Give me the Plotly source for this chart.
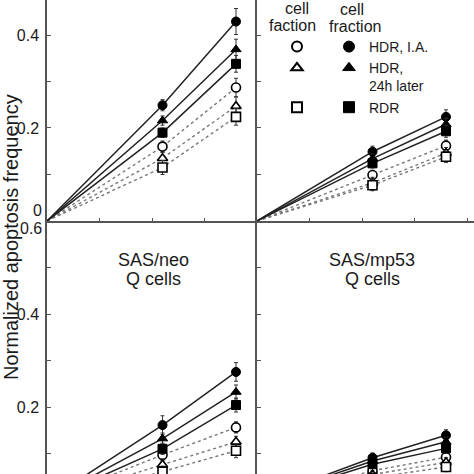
import plotly.graph_objects as go

# doses (x units, tick every 1) and the three schedules
dose = [0, 2.2, 3.6]
schedules = ['HDR, I.A.', 'HDR,<br>24h later', 'RDR']
blank_names = [' ', ' <br> ', ' ']
symbols = ['circle', 'triangle-up', 'square']

# top left panel: filled = one cell fraction, open = other
tl_filled = [[0, 0.249, 0.429], [0, 0.216, 0.369], [0, 0.190, 0.338]]
tl_filled_err = [[0.012, 0.028], [0.010, 0.022], [0.010, 0.018]]
tl_open = [[0, 0.160, 0.287], [0, 0.135, 0.247], [0, 0.115, 0.224]]
tl_open_err = [[0.012, 0.020], [0.012, 0.020], [0.015, 0.018]]

# top right panel
tr_filled = [[0, 0.149, 0.224], [0, 0.134, 0.208], [0, 0.124, 0.193]]
tr_filled_err = [[0.012, 0.015], [0.010, 0.013], [0.010, 0.013]]
tr_open = [[0, 0.099, 0.162], [0, 0.082, 0.146], [0, 0.077, 0.138]]
tr_open_err = [[0.010, 0.012], [0.012, 0.012], [0.012, 0.012]]

# bottom left: SAS/neo Q cells
bl_filled = [[0, 0.162, 0.276], [0, 0.133, 0.233], [0, 0.111, 0.205]]
bl_filled_err = [[0.020, 0.020], [0.012, 0.015], [0.012, 0.015]]
bl_open = [[0, 0.098, 0.157], [0, 0.077, 0.126], [0, 0.062, 0.107]]
bl_open_err = [[0.012, 0.012], [0.012, 0.012], [0.012, 0.015]]

# bottom right: SAS/mp53 Q cells
br_filled = [[0, 0.092, 0.140], [0, 0.085, 0.126], [0, 0.078, 0.112]]
br_filled_err = [[0.010, 0.012], [0.008, 0.010], [0.008, 0.010]]
br_open = [[0, 0.064, 0.093], [0, 0.056, 0.082], [0, 0.049, 0.072]]
br_open_err = [[0.008, 0.010], [0.008, 0.010], [0.008, 0.010]]

FONT = 'Arial, Liberation Sans, sans-serif'
TXT = '#1a1a1a'

fig = go.Figure()


def add_panel(xa, ya, filled, filled_err, opened, opened_err):
    # lines first (dotted for open, solid for filled) so markers sit on top
    for vals in opened:
        fig.add_trace(go.Scatter(x=dose, y=vals, xaxis=xa, yaxis=ya, mode='lines',
                                 line=dict(color='#777', width=1.4, dash='dot'),
                                 showlegend=False, hoverinfo='skip'))
    for vals in filled:
        fig.add_trace(go.Scatter(x=dose, y=vals, xaxis=xa, yaxis=ya, mode='lines',
                                 line=dict(color='#222', width=1.5),
                                 showlegend=False, hoverinfo='skip'))
    for vals, err, sym in zip(opened, opened_err, symbols):
        fig.add_trace(go.Scatter(x=dose[1:], y=vals[1:], xaxis=xa, yaxis=ya, mode='markers',
                                 marker=dict(symbol=sym, size=9, color='white',
                                             line=dict(color='black', width=1.6)),
                                 error_y=dict(type='data', array=err, color='#333',
                                              thickness=1, width=2),
                                 showlegend=False))
    for vals, err, sym in zip(filled, filled_err, symbols):
        fig.add_trace(go.Scatter(x=dose[1:], y=vals[1:], xaxis=xa, yaxis=ya, mode='markers',
                                 marker=dict(symbol=sym, size=9, color='black',
                                             line=dict(color='black', width=1)),
                                 error_y=dict(type='data', array=err, color='#333',
                                              thickness=1, width=2),
                                 showlegend=False))


add_panel('x', 'y', tl_filled, tl_filled_err, tl_open, tl_open_err)
add_panel('x2', 'y2', tr_filled, tr_filled_err, tr_open, tr_open_err)
add_panel('x3', 'y3', bl_filled, bl_filled_err, bl_open, bl_open_err)
add_panel('x4', 'y4', br_filled, br_filled_err, br_open, br_open_err)

# legend-only entries: open symbols (no text) and filled symbols with labels
for nm, sym in zip(blank_names, symbols):
    fig.add_trace(go.Scatter(x=[None], y=[None], mode='markers', name=nm, legend='legend',
                             marker=dict(symbol=sym, size=10, color='white',
                                         line=dict(color='black', width=2))))
for nm, sym in zip(schedules, symbols):
    fig.add_trace(go.Scatter(x=[None], y=[None], mode='markers', name=nm, legend='legend2',
                             marker=dict(symbol=sym, size=11, color='black',
                                         line=dict(color='black', width=1))))

axis_style = dict(showgrid=False, zeroline=False, showline=True, linecolor='#555',
                  linewidth=1.5, ticks='inside', tickcolor='#555', ticklen=4,
                  tickwidth=1.2, automargin=False, ticklabelstandoff=3,
                  tickfont=dict(family=FONT, size=16, color=TXT))
x_left = [0.0992, 0.5422]
x_right = [0.5422, 1.0]
y_top = [0.5338, 1.0]
y_bottom = [0.0, 0.5338]

fig.update_layout(
    width=474, height=474,
    margin=dict(l=0, r=0, t=0, b=0, autoexpand=False),
    paper_bgcolor='white', plot_bgcolor='white',
    font=dict(family=FONT, size=16, color=TXT),
    xaxis=dict(axis_style, domain=x_left, anchor='y', range=[0, 4],
               tickvals=[1, 2, 3], ticklen=3, showticklabels=False),
    yaxis=dict(axis_style, domain=y_top, anchor='x', range=[0, 0.4753],
               tickvals=[0, 0.1, 0.2, 0.3, 0.4], ticktext=['', '', '0.2', '', '0.4']),
    xaxis2=dict(axis_style, domain=x_right, anchor='y2', range=[0, 4.133],
                tickvals=[1, 2, 3, 4], ticklen=3, showticklabels=False),
    yaxis2=dict(axis_style, domain=y_top, anchor='x2', range=[0, 0.4753],
                tickvals=[0.1, 0.2, 0.3, 0.4], showticklabels=False),
    xaxis3=dict(domain=x_left, anchor='y3', range=[0, 4], visible=False, automargin=False),
    yaxis3=dict(axis_style, domain=y_bottom, anchor='x3', range=[0.057, 0.6],
                tickvals=[0.1, 0.2, 0.3, 0.4, 0.5, 0.6],
                ticktext=['', '0.2', '', '0.4', '', '']),
    xaxis4=dict(domain=x_right, anchor='y4', range=[0, 4.133], visible=False, automargin=False),
    yaxis4=dict(axis_style, domain=y_bottom, anchor='x4', range=[0.057, 0.6],
                tickvals=[0.1, 0.2, 0.3, 0.4, 0.5], showticklabels=False),
    legend=dict(x=277 / 474, y=1 - 31 / 474, xanchor='left', yanchor='top',
                bgcolor='rgba(0,0,0,0)', valign='top', itemclick=False,
                font=dict(family=FONT, size=14, color=TXT)),
    legend2=dict(x=329 / 474, y=1 - 31 / 474, xanchor='left', yanchor='top',
                 bgcolor='rgba(0,0,0,0)', valign='top', itemclick=False,
                 font=dict(family=FONT, size=14, color=TXT)),
)

annots = [
    dict(text='Normalized apoptosis frequency', xref='paper', yref='paper',
         x=11 / 474, y=1 - 237 / 474, textangle=-90, font=dict(size=20)),
    dict(text='0', xref='paper', yref='y', x=0.0992, y=0, xanchor='right',
         xshift=-3, yshift=10),
    dict(text='0.6', xref='paper', yref='y3', x=0.0992, y=0.6, xanchor='right',
         xshift=-3, yshift=-8),
    dict(text='SAS/neo', xref='paper', yref='paper', x=153 / 474, y=1 - 260 / 474,
         font=dict(size=18)),
    dict(text='Q cells', xref='paper', yref='paper', x=153 / 474, y=1 - 279 / 474,
         font=dict(size=18)),
    dict(text='SAS/mp53', xref='paper', yref='paper', x=372 / 474, y=1 - 260 / 474,
         font=dict(size=18)),
    dict(text='Q cells', xref='paper', yref='paper', x=372 / 474, y=1 - 279 / 474,
         font=dict(size=18)),
    # legend column headers
    dict(text='cell', xref='paper', yref='paper', x=297 / 474, y=1 - 9 / 474),
    dict(text='faction', xref='paper', yref='paper', x=292 / 474, y=1 - 25 / 474),
    dict(text='cell', xref='paper', yref='paper', x=352 / 474, y=1 - 10 / 474),
    dict(text='fraction', xref='paper', yref='paper', x=355 / 474, y=1 - 26 / 474),
]
for a in annots:
    a.setdefault('xanchor', 'center')
    a.setdefault('yanchor', 'middle')
    a['showarrow'] = False
fig.update_layout(annotations=annots)

fig.write_html("out.html", config={'displayModeBar': False},
               post_script="document.body.style.margin='0';")
